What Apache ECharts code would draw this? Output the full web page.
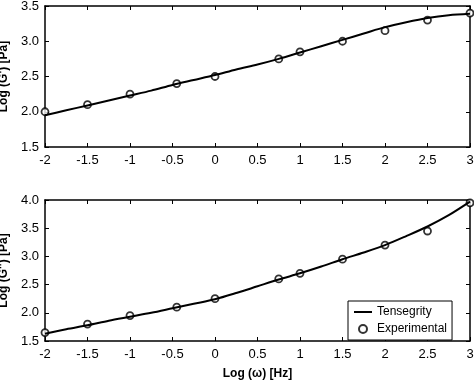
<!DOCTYPE html>
<html>
<head>
<meta charset="utf-8">
<script src="https://cdn.jsdelivr.net/npm/echarts@6/dist/echarts.min.js"></script>
<style>html,body{margin:0;padding:0;background:#fff}#c{width:474px;height:381px}</style>
</head>
<body>
<div id="c"></div>
<script>
// Tensegrity model curves (Log ω vs Log G', Log G'')
const xCurve = [-2, -1.75, -1.5, -1.25, -1, -0.75, -0.5, -0.25, 0, 0.25, 0.5, 0.75, 1, 1.25, 1.5, 1.75, 2, 2.25, 2.5, 2.75, 3];
const gPrimeCurve = [1.95, 2.02, 2.09, 2.16, 2.23, 2.30, 2.38, 2.45, 2.52, 2.60, 2.67, 2.75, 2.84, 2.93, 3.02, 3.11, 3.20, 3.27, 3.33, 3.37, 3.39];
const gDoublePrimeCurve = [1.63, 1.71, 1.78, 1.86, 1.93, 2.00, 2.08, 2.16, 2.24, 2.35, 2.47, 2.59, 2.70, 2.82, 2.95, 3.07, 3.20, 3.36, 3.53, 3.73, 3.97];
// Experimental points
const xExp = [-2, -1.5, -1, -0.45, 0, 0.75, 1, 1.5, 2, 2.5, 3];
const gPrimeExp = [2.0, 2.1, 2.25, 2.4, 2.5, 2.75, 2.85, 3.0, 3.15, 3.3, 3.4];
const gDoublePrimeExp = [1.65, 1.8, 1.95, 2.1, 2.25, 2.6, 2.7, 2.95, 3.2, 3.45, 3.95];
// Axis settings
const xTicks = { min: -2, max: 3, interval: 0.5 };
const yTop = { min: 1.5, max: 3.5, interval: 0.5 };
const yBottom = { min: 1.5, max: 4.0, interval: 0.5 };
const xTitle = 'Log (ω) [Hz]';
const yTitleTop = "Log (G') [Pa]";
const yTitleBottom = "Log (G'') [Pa]";

const pair = (xs, ys) => xs.map((x, i) => [x, ys[i]]);
const font = 'Liberation Sans, Arial, sans-serif';
const tick = { show: true, inside: true, length: 4, lineStyle: { color: '#000', width: 1 } };
const line = { show: true, onZero: false, lineStyle: { color: '#000', width: 1.5 } };

function xAx(grid, pos, labels, name) {
  return {
    type: 'value', gridIndex: grid, position: pos, min: xTicks.min, max: xTicks.max, interval: xTicks.interval,
    axisLine: line, axisTick: tick, splitLine: { show: false },
    axisLabel: { show: labels, color: '#000', fontFamily: font, fontSize: 13, margin: 7 },
    name: name || '', nameLocation: 'middle', nameGap: 27,
    nameTextStyle: { color: '#000', fontFamily: font, fontSize: 12, fontWeight: 'bold' }
  };
}
function yAx(grid, pos, labels, cfg, name) {
  return {
    type: 'value', gridIndex: grid, position: pos, min: cfg.min, max: cfg.max, interval: cfg.interval,
    axisLine: line, axisTick: tick, splitLine: { show: false },
    axisLabel: { show: labels, color: '#000', fontFamily: font, fontSize: 13, margin: 6, formatter: v => v.toFixed(1) },
    name: name || '', nameLocation: 'middle', nameGap: 30, nameRotate: 90,
    nameTextStyle: { color: '#000', fontFamily: font, fontSize: 12, fontWeight: 'bold' }
  };
}

const chart = echarts.init(document.getElementById('c'), null, { renderer: 'canvas' });
chart.setOption({
  animation: false,
  backgroundColor: '#fff',
  grid: [
    { left: 45, right: 4, top: 6, height: 141, containLabel: false, outerBoundsMode: 'none' },
    { left: 45, right: 4, top: 200, height: 141, containLabel: false, outerBoundsMode: 'none' }
  ],
  xAxis: [
    xAx(0, 'bottom', true), xAx(0, 'top', false),
    xAx(1, 'bottom', true, xTitle), xAx(1, 'top', false)
  ],
  yAxis: [
    yAx(0, 'left', true, yTop, yTitleTop), yAx(0, 'right', false, yTop),
    yAx(1, 'left', true, yBottom, yTitleBottom), yAx(1, 'right', false, yBottom)
  ],
  legend: {
    show: true, orient: 'vertical', left: 348, top: 301,
    backgroundColor: '#fff', borderColor: '#000', borderWidth: 1, borderRadius: 0,
    padding: [5, 5, 5, 6], itemGap: 5, itemWidth: 18, itemHeight: 8,
    textStyle: { color: '#000', fontFamily: font, fontSize: 12 },
    data: [
      { name: 'Tensegrity', icon: 'path://M0,0L20,0L20,2.2L0,2.2Z', itemStyle: { color: '#000', borderWidth: 0 } },
      { name: 'Experimental', icon: 'emptyCircle', itemStyle: { color: '#000', borderColor: '#000', borderWidth: 2 } }
    ]
  },
  series: [
    { name: 'Tensegrity', type: 'line', xAxisIndex: 0, yAxisIndex: 0, data: pair(xCurve, gPrimeCurve), smooth: 0.3, symbol: 'none', lineStyle: { color: '#000', width: 2 }, itemStyle: { color: '#000' } },
    { name: 'Experimental', type: 'scatter', xAxisIndex: 0, yAxisIndex: 0, data: pair(xExp, gPrimeExp), symbol: 'circle', symbolSize: 7, clip: false, itemStyle: { color: '#fff', borderColor: '#000', borderWidth: 1.8 } },
    { name: 'Tensegrity', type: 'line', xAxisIndex: 2, yAxisIndex: 2, data: pair(xCurve, gDoublePrimeCurve), smooth: 0.3, symbol: 'none', lineStyle: { color: '#000', width: 2 }, itemStyle: { color: '#000' } },
    { name: 'Experimental', type: 'scatter', xAxisIndex: 2, yAxisIndex: 2, data: pair(xExp, gDoublePrimeExp), symbol: 'circle', symbolSize: 7, clip: false, itemStyle: { color: '#fff', borderColor: '#000', borderWidth: 1.8 } }
  ]
});
</script>
</body>
</html>
